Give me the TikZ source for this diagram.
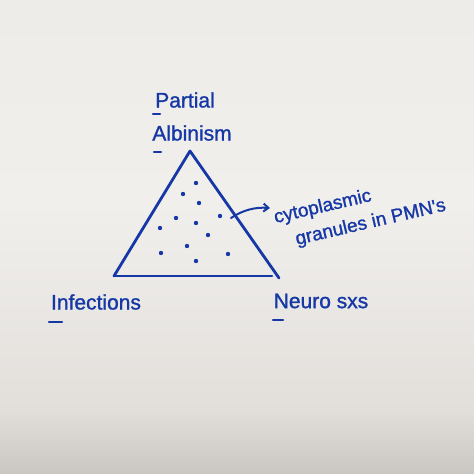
\documentclass[tikz,border=0pt]{standalone}
\usepackage{fontspec}
\setmainfont{Liberation Sans}
\newfontfamily\hand[FakeBold=1.2]{Liberation Sans}
\usetikzlibrary{arrows.meta}
\definecolor{ink}{RGB}{22,56,166}
\definecolor{papertop}{RGB}{238,236,232}
\definecolor{papermid}{RGB}{241,239,236}
\definecolor{paperlow}{RGB}{226,223,219}
\definecolor{paperbot}{RGB}{202,198,193}
\begin{document}
\begin{tikzpicture}[x=1pt,y=-1pt,
  pen/.style={draw=ink,line width=2.8pt,line cap=round,line join=round},
  lbl/.style={text=ink,font=\hand\fontsize{21}{23}\selectfont,inner sep=0pt},
  note/.style={text=ink,font=\hand\fontsize{19}{26}\selectfont,inner sep=0pt,align=left},
  grain/.style={circle,fill=ink,inner sep=0pt,minimum size=4.4pt},
  uline/.style={draw=ink,line width=2.3pt,line cap=round}]
\useasboundingbox (0,0) rectangle (474,474);
\shade[top color=papertop,bottom color=paperlow,middle color=papermid] (0,0) rectangle (474,410);
\shade[top color=paperlow,bottom color=paperbot] (0,409.5) rectangle (474,474);
% triangle
\coordinate (apex) at (190,151);
\coordinate (bl) at (114,276);
\coordinate (br) at (279,278);
\draw[pen] (bl) -- (apex) -- (br);
\draw[pen] (bl) -- (272,276);
% granules
\foreach \n/\x/\y in {g1/196/183,g2/183/194,g3/199/203,g4/176/218,g5/220/216,g6/160/228,
  g7/196/223,g8/208/235,g9/187/246,g10/161/253,g11/228/254,g12/196/261}
  \node[grain] (\n) at (\x,\y) {};
% labels
\node[lbl] (partial) at (185,100) {Partial};
\node[lbl] (albinism) at (192,133) {Albinism};
\node[lbl] (infections) at (96,302) {Infections};
\node[lbl] (neuro) at (321,301) {Neuro sxs};
\node[note,rotate=13] (granules) at (360,212) {cytoplasmic\\\hspace{16pt}granules in PMN's};
% underlines
\draw[uline] (153,114) -- (160,114);
\draw[uline] (154,152) -- (161,152);
\draw[uline] (49,322) -- (62,322);
\draw[uline] (273,320) -- (283,320);
% arrow
\coordinate (astart) at (231,218);
\coordinate (aend) at (270,208);
\draw[draw=ink,line width=2pt,line cap=round,-{Straight Barb[length=5pt,width=8pt]}]
  (astart) .. controls (243,210) and (255,207) .. (aend);
\end{tikzpicture}
\end{document}
